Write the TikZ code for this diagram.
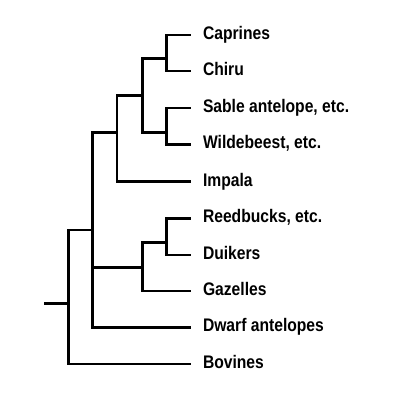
\documentclass[tikz,border=0pt]{standalone}
\usepackage{fontspec}
\setmainfont{Liberation Sans}[FakeStretch=0.86]
\usepackage{tikz}
\usetikzlibrary{
  	positioning,
  	calc
  }
\tikzstyle{leaf}=[anchor=west,inner xsep=11.8pt,inner ysep=0pt,text height=8.6pt,text depth=0pt,font=\fontsize{18.2}{20}\selectfont\bfseries]
\tikzstyle{branch}=[line width=2.8pt,line join=miter]

\begin{document}
\begin{tikzpicture}[x=1pt,y=-1pt]
\useasboundingbox (0,0) rectangle (400,404);
% tips
\node[leaf] (cap) at (191,35) {Caprines};
\node[leaf] (chi) at (191,71) {Chiru};
\node[leaf] (sab) at (191,108) {Sable antelope, etc.};
\node[leaf] (wil) at (191,144.5) {Wildebeest, etc.};
\node[leaf] (imp) at (191,181.7) {Impala};
\node[leaf] (ree) at (191,218.3) {Reedbucks, etc.};
\node[leaf] (dui) at (191,255) {Duikers};
\node[leaf] (gaz) at (191,291) {Gazelles};
\node[leaf] (dwa) at (191,327.3) {Dwarf antelopes};
\node[leaf] (bov) at (191,364) {Bovines};
% splits
\coordinate (stem) at (44.3,303.3);
\coordinate (root) at (68.3,303.3);
\coordinate (upper) at (92.7,230);
\coordinate (impc) at (117,132.3);
\coordinate (capw) at (142.3,95.7);
\coordinate (capc) at (166.3,58.7);
\coordinate (sabw) at (166.3,132.3);
\coordinate (gazc) at (142.3,267.3);
\coordinate (reed) at (166.3,242.6);
\draw [branch] (stem) -- (root);
\draw [branch] (root) |- (upper);
\draw [branch] (root) |- (bov.west);
\draw [branch] (upper) |- (impc);
\draw [branch] (upper) |- (gazc);
\draw [branch] (upper) |- (dwa.west);
\draw [branch] (impc) |- (capw);
\draw [branch] (impc) |- (imp.west);
\draw [branch] (capw) |- (capc);
\draw [branch] (capw) |- (sabw);
\draw [branch] (capc) |- (cap.west);
\draw [branch] (capc) |- (chi.west);
\draw [branch] (sabw) |- (sab.west);
\draw [branch] (sabw) |- (wil.west);
\draw [branch] (gazc) |- (reed);
\draw [branch] (gazc) |- (gaz.west);
\draw [branch] (reed) |- (ree.west);
\draw [branch] (reed) |- (dui.west);
\end{tikzpicture}
\end{document}
